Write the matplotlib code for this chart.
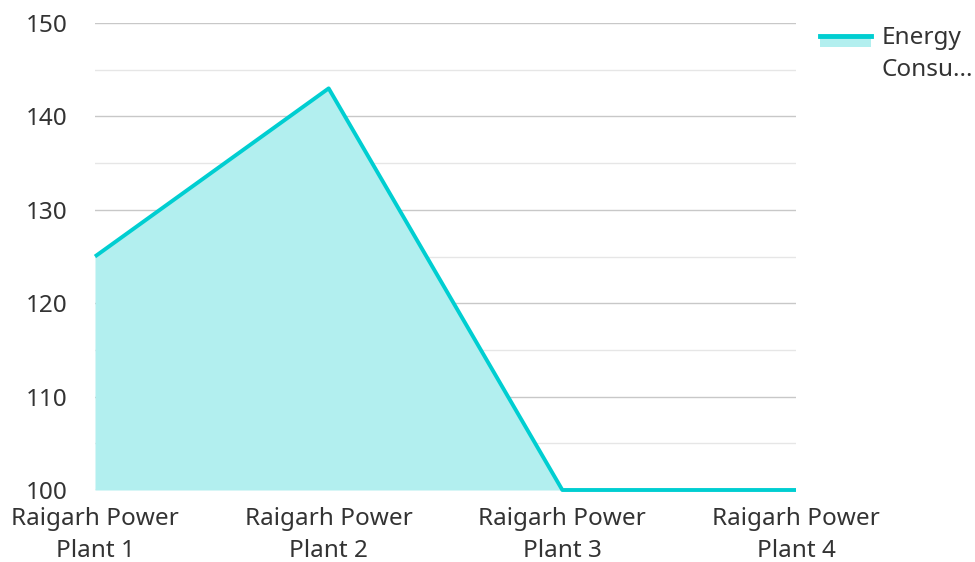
import matplotlib
matplotlib.use("Agg")
import matplotlib.pyplot as plt
from matplotlib.patches import Rectangle
from matplotlib.lines import Line2D
from matplotlib.legend_handler import HandlerBase

plt.rcParams['font.family'] = ['Noto Sans', 'DejaVu Sans']

plants = ["Raigarh Power\nPlant 1", "Raigarh Power\nPlant 2",
          "Raigarh Power\nPlant 3", "Raigarh Power\nPlant 4"]
energy = [125, 143, 100, 100]
series_name = "Energy\nConsu..."

line_color = "#00CED1"
fill_color = "#B2EFEF"
text_color = "#333333"
fs = 17.5


class AreaHandler(HandlerBase):
    # line drawn on top edge of a filled box, aligned with the first text line
    def create_artists(self, legend, orig_handle, xdescent, ydescent,
                       width, height, fontsize, trans):
        h = 8.6
        y0 = -ydescent + 10 - h + height * 0.8
        rect = Rectangle((-xdescent, y0), width, h, facecolor=fill_color,
                         edgecolor="none", transform=trans)
        ln = Line2D([-xdescent, -xdescent + width], [y0 + h, y0 + h],
                    color=line_color, lw=3.5, transform=trans)
        return [rect, ln]


fig = plt.figure(figsize=(9.75, 5.62), dpi=100)
ax = fig.add_axes([95 / 975, 72 / 562, 701 / 975, 467 / 562])

x = list(range(len(plants)))
ax.fill_between(x, energy, 100, color=fill_color, lw=0, zorder=2)
ax.plot(x, energy, color=line_color, lw=2.8, zorder=3,
        solid_capstyle="butt", clip_on=False)

ax.set_xlim(0, len(plants) - 1)
ax.set_ylim(100, 150)
ax.set_yticks(range(100, 151, 10))
ax.set_yticks(range(105, 150, 10), minor=True)
ax.set_xticks(x)
ax.set_xticklabels(plants)

ax.grid(axis="y", which="major", color="#c8c8c8", lw=1, zorder=1)
ax.grid(axis="y", which="minor", color="#e6e6e6", lw=1, zorder=1)
ax.grid(axis="x", visible=False)
for s in ax.spines.values():
    s.set_visible(False)

ax.tick_params(axis="both", which="both", length=0, labelsize=fs,
               labelcolor=text_color)
ax.tick_params(axis="y", pad=20)
ax.tick_params(axis="x", pad=12)
for t in ax.get_xticklabels():
    t.set_linespacing(1.45)

ax.legend([object()], [series_name], handler_map={object: AreaHandler()},
          loc="upper left", bbox_to_anchor=(820 / 975, 1 - 26 / 562),
          bbox_transform=fig.transFigure, frameon=False,
          fontsize=fs, labelcolor=text_color, handlelength=2.1,
          handletextpad=0.45, borderpad=0, borderaxespad=0)
leg = ax.get_legend()
for t in leg.get_texts():
    t.set_linespacing(1.45)

fig.savefig("out.png", dpi=100)
